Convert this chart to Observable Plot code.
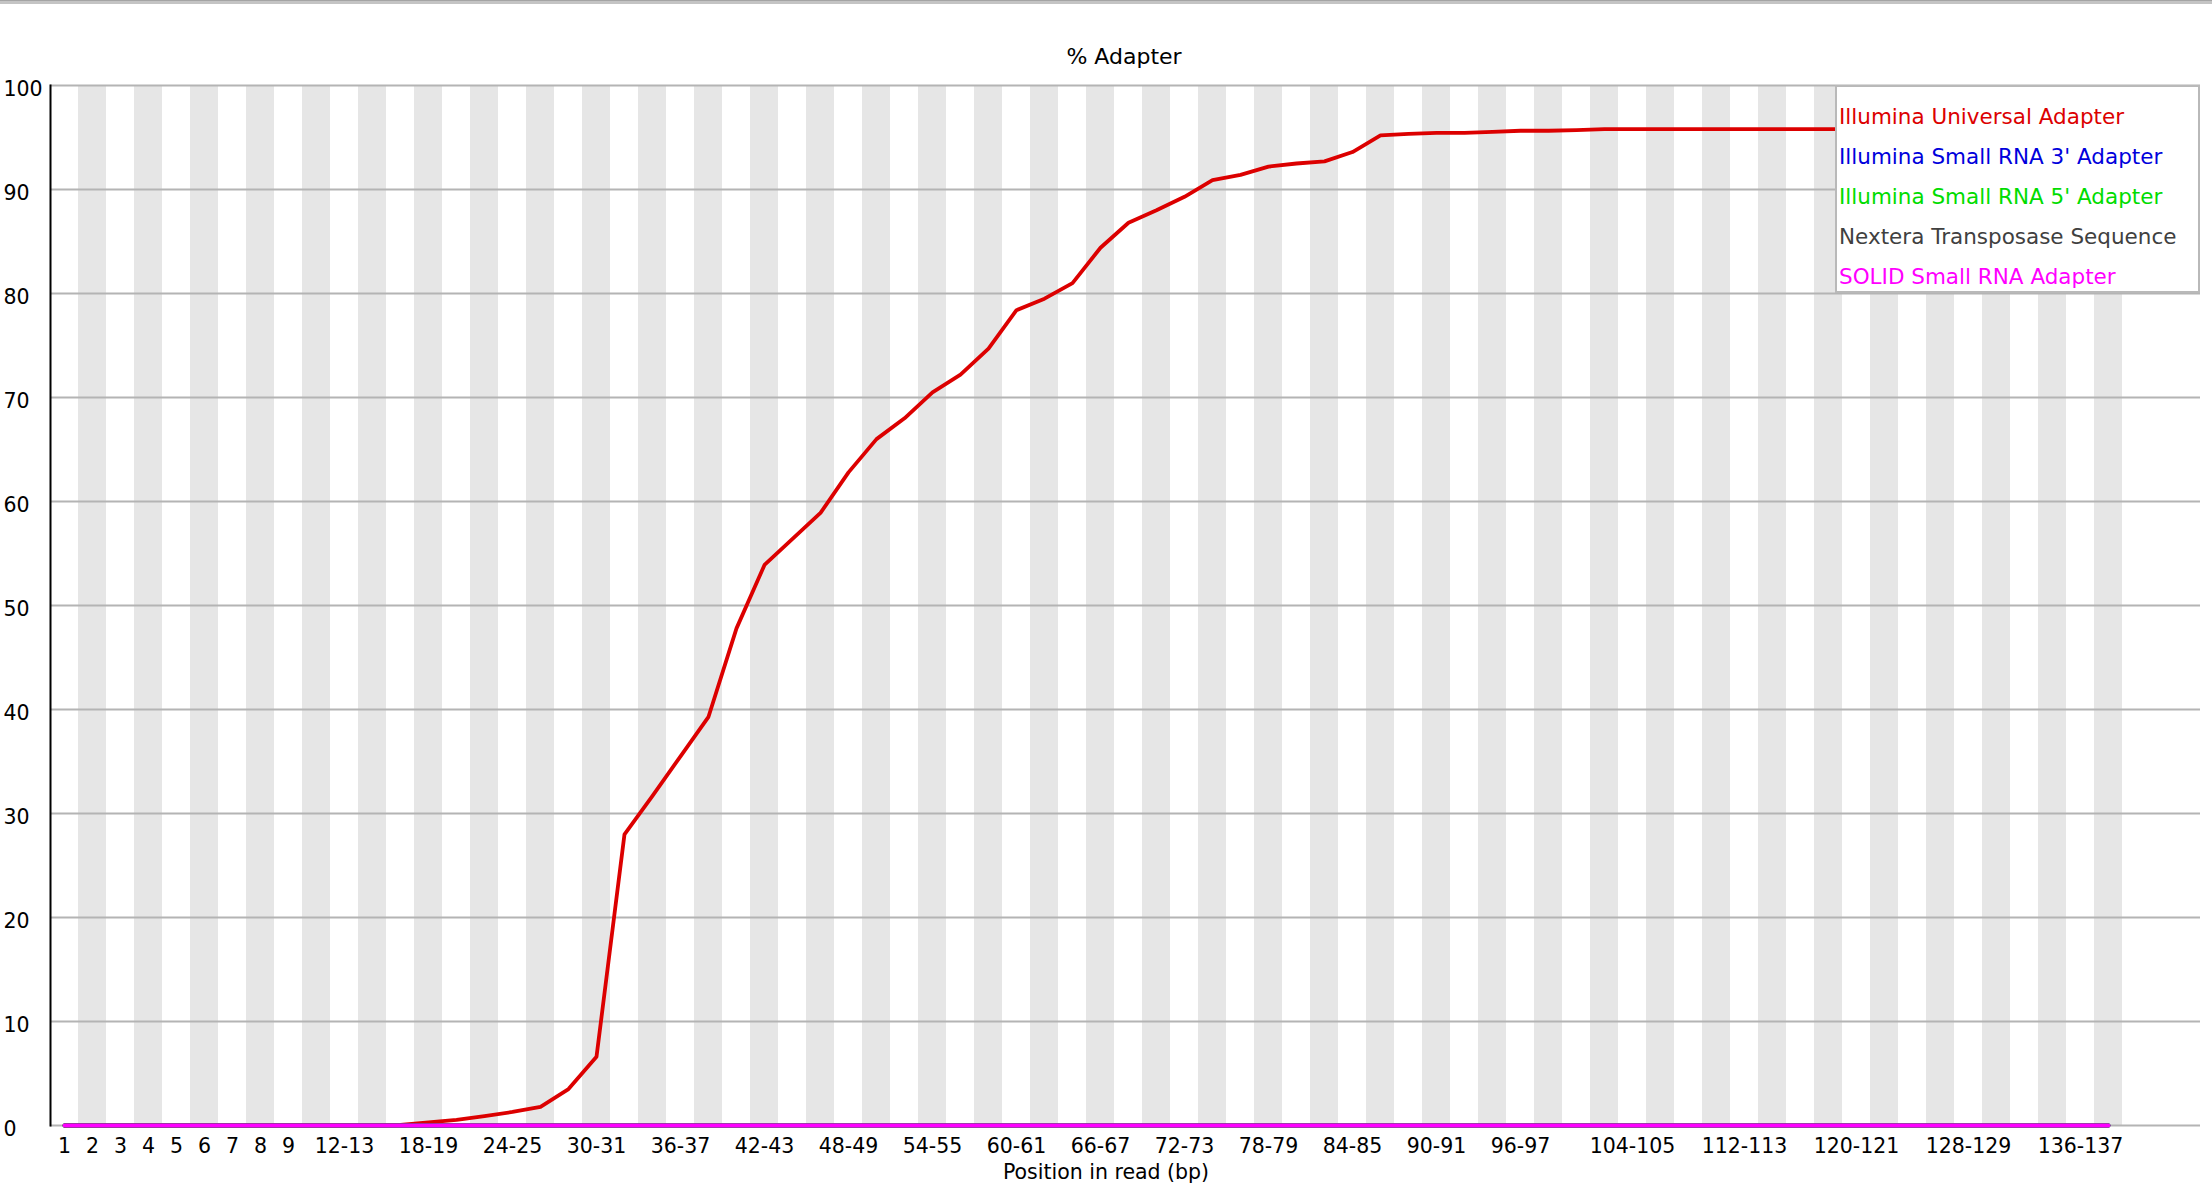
<!DOCTYPE html>
<html>
<head>
<meta charset="utf-8">
<script src="https://cdn.jsdelivr.net/npm/d3@7"></script>
<script src="https://cdn.jsdelivr.net/npm/@observablehq/plot@0.6"></script>
<style>
  html, body { margin: 0; padding: 0; background: #fff; overflow: hidden; }
  #wrap { position: relative; width: 2212px; height: 1186px; overflow: hidden; font-family: "DejaVu Sans", sans-serif; color: #000; }
  #topline { position: absolute; left: 0; top: 0; width: 2212px; height: 3px; background: #c4c4c4; border-top: 1px solid #a4a4a4; z-index: 3; }
  #title { position: absolute; left: 1124px; top: 46px; transform: translateX(-50%); font-size: 22px; line-height: 1; white-space: nowrap; }
  #xlabel { position: absolute; left: 1106px; top: 1162px; transform: translateX(-50%); font-size: 20.5px; line-height: 1; white-space: nowrap; }
  #legend { position: absolute; left: 1835px; top: 85px; width: 365px; height: 208px; box-sizing: border-box; background: #fff; border: 2px solid #b9b9b9; padding: 10px 0 0 2px; font-size: 21.5px; z-index: 2; }
  #legend div { line-height: 40px; height: 40px; white-space: nowrap; }
</style>
</head>
<body>
<div id="wrap">
  <div id="topline"></div>
  <div id="chart"></div>
  <div id="title">% Adapter</div>
  <div id="xlabel">Position in read (bp)</div>
  <div id="legend"></div>
</div>
<script>
// Base groups (x categories)
const categories = [
  "1","2","3","4","5","6","7","8","9",
  "10-11","12-13","14-15","16-17","18-19","20-21","22-23","24-25","26-27","28-29",
  "30-31","32-33","34-35","36-37","38-39","40-41","42-43","44-45","46-47","48-49",
  "50-51","52-53","54-55","56-57","58-59","60-61","62-63","64-65","66-67","68-69",
  "70-71","72-73","74-75","76-77","78-79","80-81","82-83","84-85","86-87","88-89",
  "90-91","92-93","94-95","96-97","98-99","100-101","102-103","104-105","106-107","108-109",
  "110-111","112-113","114-115","116-117","118-119","120-121","122-123","124-125","126-127","128-129",
  "130-131","132-133","134-135","136-137","138-139"
];

// Tick labels that are drawn on the x axis
const xTickLabels = [
  "1","2","3","4","5","6","7","8","9",
  "12-13","18-19","24-25","30-31","36-37","42-43","48-49","54-55","60-61","66-67",
  "72-73","78-79","84-85","90-91","96-97","104-105","112-113","120-121","128-129","136-137"
];

const yTicks = [0, 10, 20, 30, 40, 50, 60, 70, 80, 90, 100];

// Series values (% of reads)
const illuminaUniversal = [
  0, 0, 0, 0, 0, 0, 0, 0, 0, 0, 0, 0,
  0.05, 0.3, 0.55, 0.9, 1.3, 1.8, 3.5, 6.6, 28.0, 31.7,
  35.5, 39.3, 47.8, 53.9, 56.4, 58.9, 62.8, 66.0, 68.0, 70.5,
  72.2, 74.7, 78.4, 79.5, 81.0, 84.4, 86.8, 88.0, 89.3, 90.9,
  91.4, 92.2, 92.5, 92.7, 93.6, 95.2, 95.35, 95.45, 95.45, 95.55,
  95.65, 95.65, 95.7,
  95.8, 95.8, 95.8, 95.8, 95.8, 95.8, 95.8, 95.8, 95.8, 95.8,
  95.8, 95.8, 95.8, 95.8, 95.8, 95.8, 95.8, 95.8, 95.8
];
const illuminaSmall3 = [
  0,0,0,0,0,0,0,0,0,0, 0,0,0,0,0,0,0,0,0,0, 0,0,0,0,0,0,0,0,0,0, 0,0,0,0,0,0,0,0,0,0,
  0,0,0,0,0,0,0,0,0,0, 0,0,0,0,0,0,0,0,0,0, 0,0,0,0,0,0,0,0,0,0, 0,0,0,0
];
const illuminaSmall5 = [
  0,0,0,0,0,0,0,0,0,0, 0,0,0,0,0,0,0,0,0,0, 0,0,0,0,0,0,0,0,0,0, 0,0,0,0,0,0,0,0,0,0,
  0,0,0,0,0,0,0,0,0,0, 0,0,0,0,0,0,0,0,0,0, 0,0,0,0,0,0,0,0,0,0, 0,0,0,0
];
const nexteraTransposase = [
  0,0,0,0,0,0,0,0,0,0, 0,0,0,0,0,0,0,0,0,0, 0,0,0,0,0,0,0,0,0,0, 0,0,0,0,0,0,0,0,0,0,
  0,0,0,0,0,0,0,0,0,0, 0,0,0,0,0,0,0,0,0,0, 0,0,0,0,0,0,0,0,0,0, 0,0,0,0
];
const solidSmall = [
  0,0,0,0,0,0,0,0,0,0, 0,0,0,0,0,0,0,0,0,0, 0,0,0,0,0,0,0,0,0,0, 0,0,0,0,0,0,0,0,0,0,
  0,0,0,0,0,0,0,0,0,0, 0,0,0,0,0,0,0,0,0,0, 0,0,0,0,0,0,0,0,0,0, 0,0,0,0
];

const seriesNames = [
  "Illumina Universal Adapter",
  "Illumina Small RNA 3' Adapter",
  "Illumina Small RNA 5' Adapter",
  "Nextera Transposase Sequence",
  "SOLID Small RNA Adapter"
];
const seriesValues = [illuminaUniversal, illuminaSmall3, illuminaSmall5, nexteraTransposase, solidSmall];
const seriesColors = ["rgb(220,0,0)", "rgb(0,0,220)", "rgb(0,220,0)", "rgb(64,64,64)", "rgb(255,0,255)"];

const stripeCats = categories.filter((c, i) => i % 2 === 1);

const lineMarks = seriesValues.map((vals, k) =>
  Plot.lineY(categories.map((c, i) => ({cat: c, value: vals[i]})), {
    x: "cat", y: "value", stroke: seriesColors[k], strokeWidth: 3.8, strokeLinejoin: "round"
  })
);

const chart = Plot.plot({
  width: 2212,
  height: 1200,
  marginLeft: 50,
  marginRight: 90,
  marginTop: 85,
  marginBottom: 75,
  style: {fontFamily: "DejaVu Sans, sans-serif", fontSize: "20.5px", color: "#000", background: "#fff", overflow: "visible"},
  x: {type: "band", domain: categories, padding: 0, label: null},
  y: {domain: [0, 100], label: null},
  marks: [
    Plot.barY(stripeCats, {x: d => d, y1: 0, y2: 100, fill: "#e6e6e6"}),
    Plot.ruleY(yTicks, {stroke: "#b4b4b4", strokeWidth: 2, insetRight: -78}),
    Plot.frame({anchor: "left", stroke: "#000", strokeWidth: 2}),
    ...lineMarks,
    Plot.axisX({ticks: xTickLabels, tickSize: 0, tickPadding: 13, label: null, fill: "#000"}),
    Plot.axisY({ticks: yTicks, tickSize: 0, tickPadding: 47, textAnchor: "start", dy: 4, label: null, fill: "#000"})
  ]
});
document.getElementById("chart").appendChild(chart);

const legend = document.getElementById("legend");
seriesNames.forEach((name, k) => {
  const d = document.createElement("div");
  d.textContent = name;
  d.style.color = seriesColors[k];
  legend.appendChild(d);
});
</script>
</body>
</html>
